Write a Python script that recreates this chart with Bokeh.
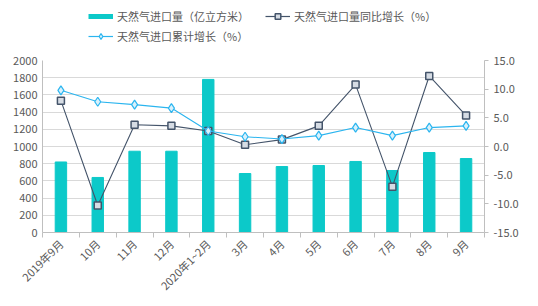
from bokeh.plotting import figure
from bokeh.layouts import column
from bokeh.models import (Range1d, LinearAxis, FixedTicker, NumeralTickFormatter,
                          Legend, LegendItem, ColumnDataSource)
from bokeh.embed import file_html
from bokeh.resources import INLINE
import math

# ---- data ----
categories = ["2019年9月", "10月", "11月", "12月", "2020年1~2月", "3月", "4月",
              "5月", "6月", "7月", "8月", "9月"]
import_volume = [820, 640, 945, 945, 1780, 686, 767, 779, 826, 721, 930, 860]
yoy_growth = [8.0, -10.3, 3.8, 3.6, 2.7, 0.3, 1.2, 3.6, 10.8, -7.0, 12.3, 5.4]
cum_growth = [9.8, 7.8, 7.3, 6.7, 2.7, 1.7, 1.3, 1.9, 3.3, 1.9, 3.3, 3.6]
left_ticks = [0, 200, 400, 600, 800, 1000, 1200, 1400, 1600, 1800, 2000]
right_ticks = [-15, -10, -5, 0, 5, 10, 15]
legend_labels = ["天然气进口量（亿立方米）", "天然气进口量同比增长（%）", "天然气进口累计增长（%）"]

FONT = "Noto Sans CJK SC"
TXT = "#595959"
BAR = "#0CC9C9"
YOY = "#44546A"
YOY_FILL = "#D6DCE4"
CUM = "#2BB5EF"
CUM_FILL = "#D9F1FC"

idx = list(range(len(categories)))
src = ColumnDataSource(dict(x=idx, vol=import_volume, yoy=yoy_growth, cum=cum_growth))

# ---------------- legend strip ----------------
LH = 48
lf = figure(width=538, height=LH, output_backend="svg", toolbar_location=None,
            x_range=Range1d(0, 1), y_range=Range1d(0, 1), min_border=0)
lf.axis.visible = False
lf.grid.grid_line_color = None
lf.outline_line_color = None
# swatch renderers kept outside the visible range (only used for legend glyphs)
off = ColumnDataSource(dict(x=[-10, -11], y=[-10, -11]))
lb = lf.line(x="x", y="y", line_color=BAR, line_width=5, line_cap="butt", source=off)
lyl = lf.line(x="x", y="y", line_color=YOY, line_width=1.2, source=off)
lys = lf.scatter(x="x", y="y", marker="square", size=7, fill_color=YOY_FILL,
                 line_color=YOY, line_width=1.5, source=off)
lcl = lf.line(x="x", y="y", line_color=CUM, line_width=1.2, source=off)
lcs = lf.scatter(x="x", y="y", marker="diamond", size=8, fill_color=CUM_FILL,
                 line_color=CUM, line_width=1.2, source=off)


def mk_legend(items, loc):
    lg = Legend(items=items, location=loc, orientation="horizontal",
                glyph_width=25, glyph_height=14, label_height=14,
                label_standoff=4, padding=0, margin=0, spacing=0,
                border_line_color=None, background_fill_alpha=0,
                label_text_font=FONT, label_text_font_size="11px",
                label_text_color=TXT)
    lf.add_layout(lg, "center")


mk_legend([LegendItem(label=legend_labels[0], renderers=[lb])], (46, LH - 24))
mk_legend([LegendItem(label=legend_labels[1], renderers=[lyl, lys])], (223, LH - 24))
mk_legend([LegendItem(label=legend_labels[2], renderers=[lcl, lcs])], (46, LH - 44))

# ---------------- main chart ----------------
p = figure(width=538, height=306 - LH, output_backend="svg", toolbar_location=None,
           x_range=Range1d(-0.5, len(categories) - 0.5), y_range=Range1d(0, 2000),
           min_border_left=42, min_border_right=54, min_border_top=60 - LH,
           min_border_bottom=74)
p.outline_line_color = None
p.extra_y_ranges = {"pct": Range1d(-15, 15)}

p.vbar(x="x", top="vol", width=0.31, color=BAR, source=src)
p.line(x="x", y="yoy", line_color=YOY, line_width=1.1, y_range_name="pct", source=src)
p.scatter(x="x", y="yoy", marker="square", size=7, fill_color=YOY_FILL,
          line_color=YOY, line_width=1.5, y_range_name="pct", source=src)
p.line(x="x", y="cum", line_color=CUM, line_width=1.1, y_range_name="pct", source=src)
p.scatter(x="x", y="cum", marker="diamond", size=9, fill_color=CUM_FILL,
          line_color=CUM, line_width=1.2, y_range_name="pct", source=src)

# x axis
xa = p.xaxis[0]
xa.ticker = FixedTicker(ticks=idx, minor_ticks=[i - 0.5 for i in range(len(categories) + 1)])
xa.major_label_overrides = {i: c for i, c in enumerate(categories)}
xa.major_label_orientation = math.pi / 4
xa.major_tick_out = 0
xa.major_tick_in = 0
xa.minor_tick_out = 5
xa.minor_tick_in = 0
xa.minor_tick_line_color = "#BFBFBF"
xa.axis_line_color = "#BFBFBF"
xa.major_label_text_font = FONT
xa.major_label_text_font_size = "11px"
xa.major_label_text_color = TXT
xa.major_label_standoff = 4

# left axis
ya = p.yaxis[0]
ya.ticker = FixedTicker(ticks=left_ticks)
ya.axis_line_color = "#BFBFBF"
ya.major_tick_out = 0
ya.major_tick_in = 0
ya.minor_tick_line_color = None
ya.major_label_text_font = FONT
ya.major_label_text_font_size = "11px"
ya.major_label_text_color = TXT
ya.major_label_standoff = 5

p.xgrid.grid_line_color = None
p.ygrid.grid_line_color = "#D9D9D9"
p.ygrid.ticker = FixedTicker(ticks=left_ticks)

# right axis
ra = LinearAxis(y_range_name="pct", ticker=FixedTicker(ticks=right_ticks),
                formatter=NumeralTickFormatter(format="0.0"))
ra.axis_line_color = "#BFBFBF"
ra.major_tick_out = 4
ra.major_tick_in = 0
ra.major_tick_line_color = "#BFBFBF"
ra.minor_tick_line_color = None
ra.major_label_text_font = FONT
ra.major_label_text_font_size = "11px"
ra.major_label_text_color = TXT
ra.major_label_standoff = 5
p.add_layout(ra, "right")

layout = column(lf, p, spacing=0)
open("out.html", "w").write(file_html(layout, INLINE))
